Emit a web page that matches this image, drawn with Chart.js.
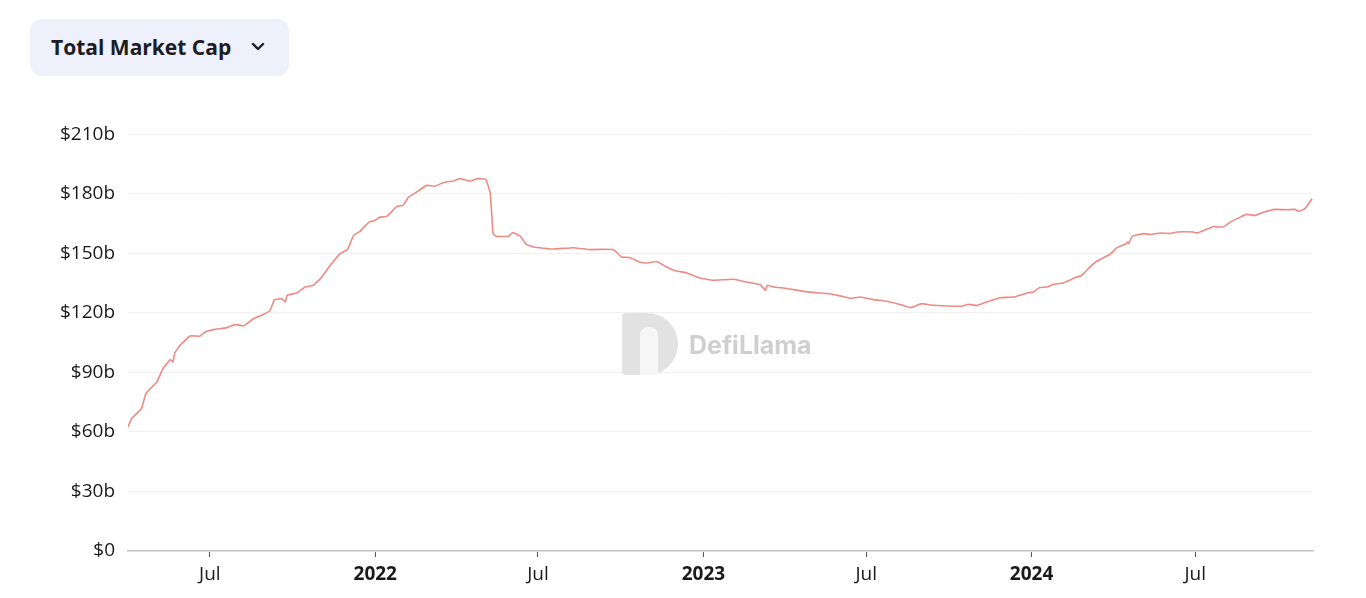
<!DOCTYPE html>
<html>
<head>
<meta charset="utf-8">
<script src="https://cdn.jsdelivr.net/npm/chart.js@4/dist/chart.umd.min.js"></script>
<style>
  html, body { margin: 0; padding: 0; background: #fff; }
  body { width: 1366px; height: 598px; position: relative; overflow: hidden; font-family: "Open Sans", sans-serif; }
  .selector {
    position: absolute; left: 30px; top: 19px; width: 259px; height: 57px;
    background: #eef0fb; border-radius: 12px; box-sizing: border-box;
    padding-left: 21px; padding-bottom: 2px; display: flex; align-items: center;
    font-weight: 700; font-size: 21px; color: #1c1c22;
  }
  .selector svg { position: absolute; left: 221px; top: 23px; }
  .chart-box { position: absolute; left: 0; top: 110px; width: 1366px; height: 488px; }
  .watermark { position: absolute; left: 622px; top: 313px; width: 195px; height: 64px; pointer-events: none; }
  .logo {
    position: absolute; left: 0; top: 0; width: 56px; height: 62px;
    background: #e2e2e2; border-radius: 4px 31px 31px 4px;
  }
  .logo .head { position: absolute; left: 18px; top: 14px; width: 18px; height: 48px; background: #f6f6f6; border-radius: 8px 8px 0 0; }
  .wm-text { position: absolute; left: 67px; top: 17px; font-size: 25px; font-weight: 700; color: #cfcfcf; font-family: "Inter", sans-serif; }
</style>
</head>
<body>
<div class="selector">Total Market Cap
  <svg width="14" height="10" viewBox="0 0 14 10"><path d="M2 2 L7 7 L12 2" fill="none" stroke="#1c1c22" stroke-width="2.4" stroke-linecap="round" stroke-linejoin="round"/></svg>
</div>
<div class="chart-box"><canvas id="chart" width="1366" height="488"></canvas></div>
<div class="watermark"><div class="logo"><div class="head"></div></div><div class="wm-text">DefiLlama</div></div>
<script>
// total market cap, in billions of dollars
const dates = [
  "2021-04-01", "2021-04-05", "2021-04-16", "2021-04-21", "2021-05-03", "2021-05-10", "2021-05-18", "2021-05-21",
  "2021-05-23", "2021-05-29", "2021-06-09", "2021-06-20", "2021-06-26", "2021-07-05", "2021-07-20", "2021-07-29",
  "2021-08-08", "2021-08-19", "2021-08-30", "2021-09-06", "2021-09-11", "2021-09-19", "2021-09-23", "2021-09-25",
  "2021-10-06", "2021-10-15", "2021-10-24", "2021-11-01", "2021-11-12", "2021-11-23", "2021-12-01", "2021-12-08",
  "2021-12-15", "2021-12-25", "2022-01-01", "2022-01-06", "2022-01-14", "2022-01-25", "2022-02-01", "2022-02-07",
  "2022-02-16", "2022-02-27", "2022-03-08", "2022-03-19", "2022-03-29", "2022-04-05", "2022-04-16", "2022-04-25",
  "2022-05-04", "2022-05-09", "2022-05-12", "2022-05-16", "2022-05-29", "2022-06-03", "2022-06-11", "2022-06-18",
  "2022-06-26", "2022-07-18", "2022-08-09", "2022-08-28", "2022-09-12", "2022-09-23", "2022-10-02", "2022-10-11",
  "2022-10-22", "2022-10-30", "2022-11-10", "2022-11-21", "2022-12-02", "2022-12-13", "2022-12-28", "2023-01-12",
  "2023-02-03", "2023-02-18", "2023-03-05", "2023-03-11", "2023-03-13", "2023-03-20", "2023-04-04", "2023-04-26",
  "2023-05-18", "2023-06-02", "2023-06-13", "2023-06-24", "2023-07-09", "2023-07-24", "2023-08-08", "2023-08-19",
  "2023-09-01", "2023-09-10", "2023-09-29", "2023-10-15", "2023-10-23", "2023-11-01", "2023-11-12", "2023-11-27",
  "2023-12-12", "2023-12-27", "2024-01-03", "2024-01-10", "2024-01-18", "2024-01-25", "2024-02-05", "2024-02-16",
  "2024-02-26", "2024-03-06", "2024-03-14", "2024-03-28", "2024-04-05", "2024-04-14", "2024-04-17", "2024-04-18",
  "2024-04-22", "2024-05-05", "2024-05-12", "2024-05-23", "2024-06-03", "2024-06-11", "2024-06-29", "2024-07-03",
  "2024-07-18", "2024-07-21", "2024-08-01", "2024-08-09", "2024-08-20", "2024-08-27", "2024-09-06", "2024-09-15",
  "2024-09-28", "2024-10-11", "2024-10-20", "2024-10-24", "2024-10-31", "2024-11-08"
];
const marketCap = [
  62.6, 66.8, 71.8, 79.4, 85.2, 92.0, 96.5, 95.3,
  99.8, 103.7, 108.4, 108.3, 110.4, 111.6, 112.6, 114.1,
  113.6, 117.2, 119.3, 121.3, 126.7, 127.2, 125.5, 128.9,
  130.1, 133.1, 133.9, 137.3, 144.0, 149.9, 151.9, 159.1,
  161.1, 165.8, 166.7, 168.3, 168.7, 173.7, 174.2, 178.4,
  180.9, 184.3, 183.9, 185.9, 186.5, 187.7, 186.5, 187.7,
  187.3, 180.1, 160.0, 158.6, 158.6, 160.5, 158.8, 154.6,
  153.2, 152.2, 152.9, 151.9, 152.1, 151.9, 148.2, 147.9,
  145.7, 145.2, 145.9, 143.2, 141.1, 140.3, 137.6, 136.5,
  137.0, 135.6, 134.3, 131.4, 133.9, 133.1, 132.3, 130.6,
  129.8, 128.6, 127.4, 128.0, 126.7, 125.9, 124.2, 122.7,
  124.7, 124.0, 123.5, 123.4, 124.4, 123.7, 125.5, 127.7,
  128.0, 130.1, 130.6, 132.8, 133.1, 134.4, 135.1, 137.3,
  139.0, 143.2, 146.2, 149.5, 152.9, 154.6, 155.7, 154.9,
  158.6, 160.0, 159.5, 160.3, 160.0, 160.8, 160.8, 160.3,
  163.0, 163.6, 163.3, 165.8, 168.3, 169.7, 169.2, 170.8,
  172.2, 172.0, 172.2, 171.2, 172.6, 177.6
];
const startDate = "2021-04-01";
const endDate = "2024-11-09";
const tickDates = ["2021-07-01", "2022-01-01", "2022-07-01", "2023-01-01", "2023-07-01", "2024-01-01", "2024-07-01"];
const tickLabels = ["Jul", "2022", "Jul", "2023", "Jul", "2024", "Jul"];
const yTicks = [0, 30, 60, 90, 120, 150, 180, 210];

const toMs = d => Date.parse(d + "T00:00:00Z");
const points = dates.map((d, i) => ({ x: toMs(d), y: marketCap[i] }));
const tickValues = tickDates.map(toMs);

const fontFamily = "'Open Sans', sans-serif";

new Chart(document.getElementById("chart"), {
  type: "line",
  data: {
    datasets: [{
      data: points,
      borderColor: "#ee8a84",
      borderWidth: 1.6,
      pointRadius: 0,
      tension: 0.1,
      fill: false
    }]
  },
  options: {
    responsive: false,
    animation: false,
    devicePixelRatio: 1,
    layout: { padding: { top: 24, right: 53, left: 0, bottom: 0 } },
    plugins: { legend: { display: false }, tooltip: { enabled: false } },
    scales: {
      x: {
        type: "linear",
        min: toMs(startDate),
        max: toMs(endDate),
        afterBuildTicks: scale => { scale.ticks = tickValues.map(v => ({ value: v })); },
        afterFit: scale => { scale.height = 47; },
        border: { display: true, color: "#c6c6c6", width: 1.5 },
        grid: { display: true, drawOnChartArea: false, drawTicks: true, tickLength: 6, color: "#555" },
        ticks: {
          autoSkip: false,
          maxRotation: 0,
          padding: 6,
          color: "#1a1a1a",
          font: ctx => ({
            family: fontFamily,
            size: 19,
            weight: tickLabels[tickValues.indexOf(ctx.tick && ctx.tick.value)] === "Jul" ? "normal" : "bold"
          }),
          callback: value => tickLabels[tickValues.indexOf(value)]
        }
      },
      y: {
        min: 0,
        max: 210,
        afterBuildTicks: scale => { scale.ticks = yTicks.map(v => ({ value: v })); },
        afterFit: scale => { scale.width = 128; },
        border: { display: false },
        grid: { color: "#f1f1f1", drawTicks: false, lineWidth: 1 },
        ticks: {
          autoSkip: false,
          padding: 13,
          color: "#1a1a1a",
          font: { family: fontFamily, size: 19 },
          callback: v => v === 0 ? "$0" : "$" + v + "b"
        }
      }
    }
  }
});
</script>
</body>
</html>
